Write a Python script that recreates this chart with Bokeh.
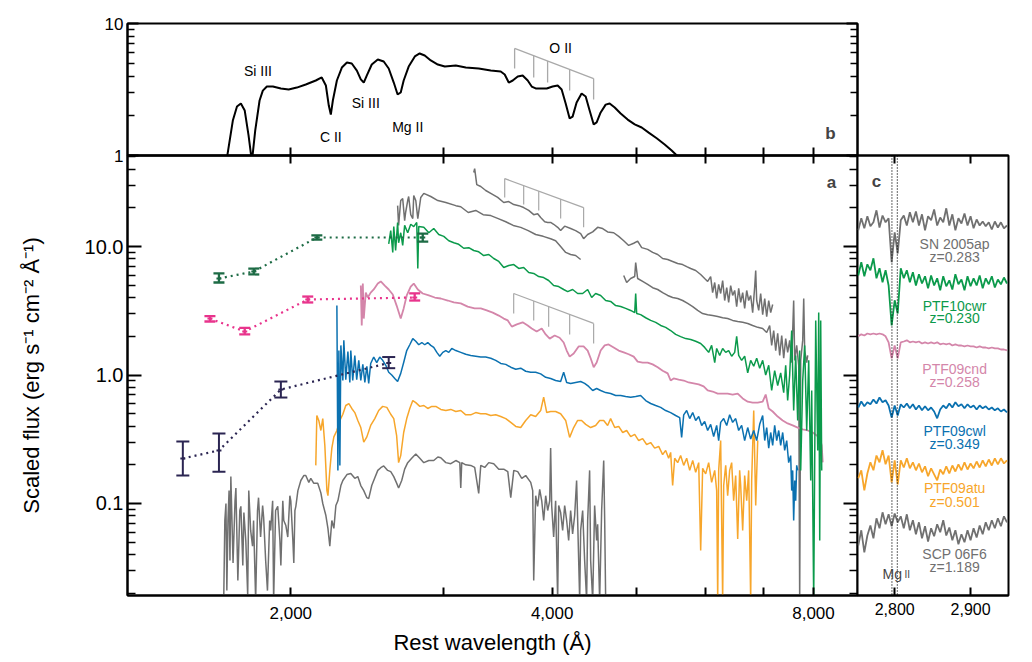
from bokeh.plotting import figure
from bokeh.layouts import column, row
from bokeh.models import (Range1d, LogAxis, LinearAxis, FixedTicker, CustomJSTickFormatter,
                          Label, Span)
from bokeh.embed import file_html
from bokeh.resources import INLINE

FONT = "Liberation Sans"
GRAY = "#707070"
GREEN = "#0b9a4b"
PINK = "#d486aa"
BLUE = "#0b71b0"
ORANGE = "#f7a62b"
DKGREEN = "#1d6b45"
MAGENTA = "#e8348c"
NAVY = "#2b2552"
COMB = "#a9a9a9"

# ---------------- panel b: model spectrum ----------------
model_wave = [1688, 1715, 1734, 1752, 1770, 1788, 1804, 1820, 1841, 1857,
              1877, 1907, 1948, 1989, 2032, 2081, 2137, 2171, 2195, 2212,
              2224, 2236, 2260, 2290, 2321, 2351, 2383, 2408, 2427, 2447,
              2479, 2519, 2559, 2593, 2628, 2655, 2677, 2698, 2734, 2779,
              2815, 2853, 2899, 2954, 3009, 3098, 3181, 3292, 3399, 3490,
              3527, 3565, 3603, 3651, 3699, 3749, 3789, 3829, 3880, 3943,
              4005, 4059, 4102, 4146, 4190, 4223, 4268, 4325, 4372, 4418,
              4466, 4501, 4549, 4610, 4659, 4722, 4797, 4887, 4979, 5072,
              5167, 5278, 5391, 5492, 5595]
model_flux = [0.95, 1.84, 2.35, 2.48, 2.19, 1.42, 0.9, 1.55, 2.61, 3.10,
              3.33, 3.33, 3.22, 3.16, 3.27, 3.45, 3.70, 3.90, 3.39, 2.39,
              2.04, 2.61, 3.70, 4.64, 5.07, 4.98, 4.40, 3.77, 3.57, 4.04,
              4.89, 5.34, 5.15, 4.56, 3.57, 2.90, 3.00, 3.70, 4.72, 5.63,
              5.93, 5.72, 5.25, 4.89, 4.72, 4.80, 4.64, 4.56, 4.40, 4.33,
              4.11, 3.57, 3.70, 3.97, 4.04, 3.70, 3.33, 3.22, 3.22, 3.22,
              3.33, 3.39, 3.16, 2.48, 1.91, 1.97, 2.52, 2.95, 2.80, 2.19,
              1.72, 1.78, 2.12, 2.43, 2.48, 2.31, 2.08, 1.87, 1.72, 1.63,
              1.49, 1.35, 1.21, 1.09, 0.97]
model_oii_wave = [3621, 3809, 3952, 4190, 4465]
model_oii_top = [6.47, 5.70, 5.20, 4.49, 3.83]
model_oii_bot = [4.56, 3.90, 3.57, 3.11, 2.66]

# ---------------- panel a: spectra ----------------
sn05ap_a_wave = [2655, 2662, 2677, 2691, 2705, 2712, 2727, 2734, 2749, 2764,
                 2771, 2786, 2801, 2823, 2846, 2899, 2954, 3017, 3098, 3139,
                 3202, 3266, 3331, 3399, 3467, 3537, 3608, 3680, 3754, 3829,
                 3906, 3984, 4037, 4091, 4146, 4201, 4257, 4314]
sn05ap_a_flux = [20.8, 14.6, 22.8, 23.6, 15.9, 18.4, 22.8, 24.5, 17.7, 16.5,
                 24.9, 22.8, 16.5, 24.1, 25.9, 24.5, 22.8, 22.0, 20.8, 20.4,
                 18.4, 19.1, 17.7, 17.4, 16.5, 15.6, 14.6, 14.1, 13.3, 12.4,
                 12.0, 11.5, 11.1, 10.0, 9.0, 8.67, 8.51, 7.92]

sn05ap_b_wave = [3249, 3257, 3275, 3310, 3354, 3399, 3462, 3518, 3565, 3613,
                 3661, 3709, 3759, 3809, 3849, 3880, 3922, 3953, 3984, 4016,
                 4059, 4091, 4135, 4201, 4257, 4314, 4348, 4395, 4454, 4513,
                 4573, 4634, 4709, 4772, 4836, 4900, 4966, 5018, 5072, 5153,
                 5222, 5292, 5362, 5434, 5506, 5580, 5654, 5715, 5776, 5853,
                 5931, 5994, 6042, 6090, 6122, 6156, 6188, 6221, 6254, 6287,
                 6321, 6355, 6388, 6422, 6456, 6491, 6525, 6560, 6595, 6630,
                 6665, 6701, 6736, 6772, 6808, 6845, 6863, 6881, 6918, 6954,
                 6991, 7029, 7066, 7104, 7141, 7179]
sn05ap_b_flux = [37.7, 40.4, 30.3, 29.3, 27.3, 25.9, 24.1, 22.0, 22.4, 21.2,
                 20.8, 20.1, 19.1, 17.7, 18.0, 16.8, 15.6, 15.4, 15.4, 14.9,
                 14.1, 13.3, 14.4, 13.8, 13.3, 12.6, 11.5, 12.4, 13.0, 14.1,
                 13.8, 13.0, 12.8, 12.0, 11.1, 10.2, 10.6, 11.0, 9.8, 9.5,
                 9.0, 8.67, 8.07, 7.92, 7.65, 7.37, 7.24, 6.98, 6.75, 6.51,
                 6.06, 5.64, 5.35, 5.84, 4.38, 5.25, 3.94, 5.07, 4.31, 5.44,
                 3.80, 4.78, 3.67, 4.97, 4.16, 4.55, 3.41, 4.72, 3.67, 4.38,
                 3.30, 4.55, 3.80, 4.16, 3.06, 4.88, 6.51, 3.80, 3.18, 4.31,
                 2.95, 3.94, 2.85, 3.80, 3.06, 3.54]

sn05ap_c_wave = [4836, 4874, 4926, 4979, 4992, 5018, 5085, 5153, 5222, 5292,
                 5362, 5434, 5506, 5580, 5654, 5730, 5807, 5884, 5962, 6042,
                 6122, 6205, 6287, 6371, 6456, 6543, 6630, 6719, 6808, 6900,
                 6991, 7066, 7122, 7160, 7198, 7237, 7275, 7314, 7353, 7392,
                 7431, 7470, 7510, 7550, 7590, 7611, 7651, 7692, 7712, 7733,
                 7774, 7795, 7815, 7857, 7878]
sn05ap_c_flux = [5.95, 5.25, 5.64, 5.84, 7.5, 5.64, 5.35, 5.07, 4.78, 4.63,
                 4.38, 4.16, 4.01, 3.94, 3.80, 3.61, 3.41, 3.18, 3.01, 2.95,
                 2.90, 2.85, 2.79, 2.75, 2.66, 2.61, 2.57, 2.52, 2.43, 2.35,
                 2.30, 2.14, 2.43, 1.70, 2.22, 1.55, 2.11, 1.42, 2.03, 1.35,
                 1.92, 1.50, 1.86, 1.25, 3.80, 1.30, 1.70, 1.19, 0.017, 1.30,
                 1.86, 3.94, 1.55, 1.25, 1.42]

ptf10cwr_wave = [2593, 2607, 2621, 2628, 2641, 2655, 2662, 2677, 2691, 2705,
                 2727, 2749, 2771, 2793, 2801, 2808, 2846, 2884, 2922, 2961,
                 3001, 3041, 3082, 3122, 3164, 3206, 3249, 3292, 3336, 3381,
                 3426, 3472, 3518, 3565, 3613, 3661, 3709, 3759, 3809, 3860,
                 3911, 3963, 4016, 4070, 4124, 4168, 4223, 4280, 4337, 4395,
                 4442, 4489, 4549, 4610, 4671, 4734, 4797, 4861, 4926, 4979,
                 4992, 5005, 5058, 5126, 5194, 5264, 5334, 5405, 5477, 5550,
                 5624, 5700, 5776, 5853, 5931, 5994, 6058, 6106, 6156, 6188,
                 6238, 6287, 6338, 6388, 6439, 6491, 6525, 6560, 6612, 6665,
                 6719, 6772, 6827, 6881, 6936, 6991, 7047, 7104, 7160, 7217,
                 7275, 7333, 7392, 7431, 7470, 7510, 7550, 7590, 7631, 7671,
                 7712, 7733, 7774, 7815, 7857, 7899, 7941, 7962, 8004, 8047,
                 8090, 8111, 8133, 8154, 8176]
ptf10cwr_flux = [10.5, 13.3, 9.0, 14.3, 9.31, 15.4, 10.7, 12.8, 10.2, 14.6,
                 12.8, 14.9, 14.3, 15.4, 6.75, 14.3, 14.1, 12.8, 13.8, 12.4,
                 12.0, 11.1, 10.7, 10.4, 9.7, 9.8, 9.31, 9.1, 8.51, 8.67,
                 8.07, 7.65, 6.87, 7.11, 7.24, 6.75, 6.87, 6.27, 6.17, 5.84,
                 5.73, 5.44, 4.97, 4.88, 4.63, 4.46, 4.63, 4.31, 4.31, 4.63,
                 4.01, 4.31, 4.16, 3.80, 3.74, 3.47, 3.41, 3.30, 3.18, 3.06,
                 4.31, 3.01, 2.95, 2.79, 2.66, 2.57, 2.43, 2.35, 2.22, 2.07,
                 1.99, 1.92, 1.89, 1.83, 1.76, 1.64, 1.50, 1.70, 1.25, 1.61,
                 1.42, 1.61, 1.50, 1.55, 1.40, 1.50, 2.0, 1.42, 1.30, 1.40,
                 1.04, 1.30, 1.17, 1.35, 1.13, 1.30, 1.0, 1.19, 0.758, 1.08,
                 0.829, 1.04, 0.73, 1.19, 0.633, 1.0, 2.22, 0.529, 1.42, 0.443,
                 1.55, 0.181, 0.906, 1.70, 0.370, 1.30, 0.151, 0.758, 0.0176, 2.66,
                 0.259, 3.06, 0.0515, 2.66, 0.181]

ptf09cnd_wave = [2408, 2414, 2421, 2427, 2440, 2453, 2472, 2492, 2519, 2539,
                 2566, 2593, 2621, 2648, 2677, 2698, 2720, 2749, 2771, 2801,
                 2838, 2884, 2930, 2977, 3033, 3082, 3139, 3197, 3257, 3310,
                 3363, 3417, 3472, 3518, 3556, 3594, 3642, 3699, 3749, 3789,
                 3839, 3891, 3932, 3974, 4027, 4080, 4124, 4157, 4190, 4235,
                 4291, 4348, 4395, 4430, 4466, 4501, 4549, 4598, 4646, 4709,
                 4772, 4836, 4900, 4966, 5018, 5085, 5153, 5222, 5292, 5362,
                 5434, 5477, 5521, 5595, 5670, 5745, 5822, 5900, 5978, 6042,
                 6122, 6205, 6287, 6371, 6456, 6543, 6630, 6719, 6808, 6900,
                 6991, 7047, 7104, 7179, 7275, 7372, 7470, 7570, 7671, 7774,
                 7878, 7983, 8068, 8133, 8176, 8198]
ptf09cnd_flux = [4.97, 2.43, 5.15, 2.75, 4.38, 4.01, 4.38, 4.63, 5.15, 5.35,
                 4.97, 4.63, 4.23, 3.47, 2.75, 3.30, 4.16, 4.88, 5.15, 4.63,
                 4.31, 4.16, 4.01, 3.94, 3.80, 3.67, 3.61, 3.41, 3.30, 3.30,
                 3.18, 3.06, 2.90, 2.75, 2.66, 2.38, 2.48, 2.57, 2.43, 2.30,
                 2.18, 2.30, 2.07, 1.92, 2.03, 1.95, 1.79, 1.55, 1.39, 1.47,
                 1.67, 1.67, 1.55, 1.35, 1.15, 1.25, 1.55, 1.70, 1.73, 1.64,
                 1.55, 1.50, 1.45, 1.39, 1.27, 1.25, 1.25, 1.21, 1.15, 1.08,
                 1.03, 0.906, 0.94, 0.92, 0.906, 0.875, 0.86, 0.845, 0.815, 0.758,
                 0.744, 0.717, 0.717, 0.717, 0.705, 0.717, 0.657, 0.62, 0.61, 0.61,
                 0.62, 0.705, 0.549, 0.52, 0.475, 0.443, 0.42, 0.405, 0.39, 0.377,
                 0.370, 0.357, 0.338, 0.327, 0.283, 0.209]

ptf09cwl_wave = [2260, 2266, 2272, 2278, 2284, 2296, 2302, 2314, 2327, 2339,
                 2345, 2357, 2370, 2382, 2395, 2408, 2421, 2434, 2447, 2459,
                 2472, 2492, 2512, 2532, 2552, 2573, 2593, 2614, 2635, 2655,
                 2677, 2698, 2720, 2742, 2764, 2786, 2808, 2831, 2853, 2876,
                 2899, 2922, 2946, 2969, 2993, 3017, 3041, 3065, 3098, 3139,
                 3181, 3223, 3266, 3310, 3354, 3399, 3444, 3490, 3537, 3584,
                 3632, 3680, 3729, 3779, 3829, 3880, 3932, 3984, 4037, 4091,
                 4124, 4157, 4201, 4257, 4314, 4360, 4407, 4454, 4501, 4549,
                 4610, 4671, 4734, 4797, 4861, 4926, 4992, 5058, 5126, 5194,
                 5264, 5334, 5405, 5477, 5550, 5610, 5639, 5670, 5715, 5761,
                 5807, 5853, 5900, 5947, 5994, 6042, 6090, 6139, 6188, 6221,
                 6254, 6304, 6355, 6405, 6456, 6508, 6560, 6612, 6665, 6719,
                 6772, 6827, 6881, 6936, 6991, 7029, 7066, 7104, 7141, 7179,
                 7217, 7256, 7295, 7333, 7372, 7411, 7451, 7490, 7530, 7550,
                 7570, 7590, 7611, 7631, 7651, 7671]
ptf09cwl_flux = [3.47, 0.181, 1.55, 0.198, 1.70, 0.906, 1.86, 0.92, 1.52, 0.875,
                 1.55, 0.906, 1.42, 0.92, 1.30, 0.906, 1.21, 0.875, 1.17, 0.86,
                 1.23, 1.38, 1.25, 1.38, 1.30, 1.19, 1.05, 1.0, 0.94, 0.89,
                 1.03, 1.25, 1.55, 1.72, 1.92, 1.83, 1.72, 1.79, 1.72, 1.79,
                 1.70, 1.64, 1.50, 1.40, 1.50, 1.55, 1.50, 1.61, 1.55, 1.50,
                 1.45, 1.42, 1.40, 1.38, 1.38, 1.35, 1.30, 1.23, 1.21, 1.15,
                 1.11, 1.13, 1.07, 1.05, 1.05, 1.02, 0.96, 0.94, 0.906, 0.89,
                 1.05, 0.875, 0.86, 0.875, 0.89, 0.86, 0.815, 0.758, 0.785, 0.758,
                 0.73, 0.717, 0.693, 0.693, 0.68, 0.67, 0.68, 0.693, 0.633, 0.60,
                 0.579, 0.56, 0.529, 0.51, 0.484, 0.466, 0.327, 0.49, 0.529, 0.458,
                 0.51, 0.443, 0.475, 0.405, 0.435, 0.370, 0.413, 0.332, 0.405, 0.309,
                 0.428, 0.458, 0.405, 0.49, 0.428, 0.458, 0.370, 0.405, 0.309, 0.39,
                 0.317, 0.370, 0.309, 0.413, 0.484, 0.309, 0.39, 0.27, 0.357, 0.283,
                 0.405, 0.309, 0.370, 0.283, 0.357, 0.259, 0.309, 0.208, 0.236, 0.126,
                 0.181, 0.0737, 0.151, 0.105, 0.198, 0.181]

ptf09atu_wave = [2137, 2143, 2154, 2166, 2177, 2189, 2201, 2207, 2218, 2230,
                 2242, 2260, 2278, 2296, 2314, 2333, 2351, 2370, 2389, 2408,
                 2427, 2447, 2472, 2499, 2525, 2552, 2580, 2607, 2628, 2648,
                 2662, 2677, 2698, 2720, 2742, 2764, 2786, 2816, 2846, 2876,
                 2907, 2938, 2977, 3017, 3057, 3098, 3139, 3181, 3223, 3266,
                 3310, 3354, 3399, 3444, 3490, 3537, 3584, 3632, 3680, 3729,
                 3779, 3829, 3880, 3911, 3943, 3984, 4037, 4091, 4146, 4190,
                 4235, 4280, 4325, 4372, 4430, 4489, 4537, 4586, 4634, 4671,
                 4722, 4772, 4823, 4874, 4926, 4979, 5032, 5085, 5139, 5194,
                 5250, 5306, 5362, 5405, 5448, 5477, 5506, 5536, 5580, 5624,
                 5670, 5715, 5761, 5807, 5853, 5900, 5931, 5962, 6010, 6058,
                 6106, 6156, 6188, 6205, 6221, 6254, 6287, 6304, 6338, 6371,
                 6405, 6439, 6473, 6508, 6543, 6577, 6595, 6630, 6665, 6701,
                 6736, 6772, 6790, 6827, 6863, 6900]
ptf09atu_flux = [0.198, 0.484, 0.443, 0.370, 0.458, 0.283, 0.126, 0.115, 0.181, 0.27,
                 0.33, 0.370, 0.443, 0.495, 0.579, 0.60, 0.549, 0.51, 0.443, 0.39,
                 0.30, 0.33, 0.405, 0.458, 0.529, 0.57, 0.56, 0.495, 0.458, 0.338,
                 0.208, 0.236, 0.357, 0.458, 0.549, 0.633, 0.61, 0.57, 0.579, 0.549,
                 0.57, 0.57, 0.54, 0.529, 0.54, 0.52, 0.529, 0.49, 0.49, 0.51,
                 0.50, 0.50, 0.484, 0.49, 0.475, 0.458, 0.428, 0.398, 0.39, 0.443,
                 0.49, 0.475, 0.529, 0.673, 0.51, 0.52, 0.52, 0.50, 0.443, 0.327,
                 0.39, 0.443, 0.443, 0.413, 0.39, 0.405, 0.443, 0.443, 0.405, 0.458,
                 0.39, 0.398, 0.357, 0.37, 0.332, 0.345, 0.309, 0.32, 0.288, 0.298,
                 0.27, 0.278, 0.24, 0.259, 0.225, 0.25, 0.138, 0.225, 0.208, 0.236,
                 0.198, 0.225, 0.181, 0.216, 0.175, 0.208, 0.0431, 0.188, 0.17, 0.208,
                 0.146, 0.181, 0.126, 0.0176, 0.181, 0.309, 0.0176, 0.138, 0.198, 0.115,
                 0.181, 0.208, 0.105, 0.165, 0.053, 0.181, 0.138, 0.0617, 0.165, 0.105,
                 0.181, 0.0176, 0.151, 0.529, 0.0965, 0.309]

scp06f6_wave = [1674, 1679, 1684, 1688, 1693, 1698, 1702, 1706, 1716, 1725,
                1729, 1738, 1747, 1752, 1761, 1766, 1775, 1784, 1789, 1798,
                1807, 1812, 1822, 1831, 1836, 1846, 1856, 1861, 1871, 1880,
                1891, 1896, 1906, 1911, 1921, 1932, 1943, 1948, 1958, 1963,
                1974, 1984, 1995, 2000, 2011, 2016, 2022, 2027, 2038, 2054,
                2070, 2081, 2098, 2109, 2125, 2148, 2166, 2177, 2195, 2207,
                2218, 2230, 2242, 2254, 2266, 2284, 2296, 2321, 2345, 2370,
                2389, 2408, 2427, 2447, 2459, 2479, 2492, 2519, 2539, 2559,
                2586, 2607, 2628, 2648, 2662, 2684, 2705, 2727, 2756, 2786,
                2816, 2846, 2884, 2922, 2954, 2977, 3017, 3057, 3098, 3131,
                3139, 3147, 3181, 3223, 3257, 3292, 3310, 3345, 3381, 3426,
                3472, 3518, 3556, 3584, 3613, 3651, 3690, 3729, 3779, 3799,
                3809, 3829, 3849, 3870, 3891, 3911, 3932, 3953, 3974, 3984,
                3995, 4016, 4037, 4059, 4070, 4091, 4113, 4135, 4157, 4179,
                4201, 4223, 4246, 4268, 4280, 4303, 4314, 4337, 4360, 4383,
                4395, 4418, 4430, 4454, 4477, 4501, 4513, 4537, 4561, 4586,
                4598, 4610]
scp06f6_flux = [0.0176, 0.0737, 0.10, 0.021, 0.0737, 0.126, 0.036, 0.162, 0.0345, 0.105,
                0.132, 0.0252, 0.0882, 0.095, 0.033, 0.085, 0.0515, 0.0192, 0.126, 0.0617,
                0.0466, 0.0737, 0.0176, 0.0882, 0.111, 0.0548, 0.0965, 0.078, 0.036, 0.021,
                0.0737, 0.0617, 0.105, 0.0176, 0.0882, 0.095, 0.0515, 0.033, 0.105, 0.0737,
                0.0674, 0.0548, 0.115, 0.105, 0.0515, 0.0345, 0.0882, 0.095, 0.126, 0.151,
                0.165, 0.165, 0.146, 0.157, 0.144, 0.144, 0.121, 0.10, 0.0806, 0.064,
                0.0466, 0.0737, 0.064, 0.0965, 0.105, 0.138, 0.151, 0.168, 0.171, 0.157,
                0.162, 0.138, 0.126, 0.111, 0.109, 0.138, 0.151, 0.181, 0.19, 0.196,
                0.181, 0.177, 0.162, 0.144, 0.132, 0.151, 0.185, 0.208, 0.225, 0.243,
                0.225, 0.208, 0.216, 0.216, 0.23, 0.227, 0.208, 0.204, 0.216, 0.208,
                0.132, 0.208, 0.20, 0.198, 0.191, 0.12, 0.198, 0.191, 0.208, 0.204,
                0.185, 0.185, 0.177, 0.111, 0.181, 0.177, 0.157, 0.165, 0.146, 0.126,
                0.0252, 0.115, 0.095, 0.129, 0.105, 0.0737, 0.115, 0.0882, 0.105, 0.27,
                0.0965, 0.0548, 0.105, 0.0176, 0.0965, 0.085, 0.0617, 0.0965, 0.0737, 0.0515,
                0.0882, 0.058, 0.0806, 0.151, 0.0737, 0.0176, 0.0617, 0.0882, 0.036, 0.0176,
                0.0737, 0.181, 0.036, 0.0176, 0.0965, 0.0515, 0.069, 0.0176, 0.0882, 0.216,
                0.0737, 0.0176]

# O II line markers in panel a
sn05ap_oii_wave = [3527, 3709, 3860, 4091, 4348]
sn05ap_oii_top = [33.8, 29.8, 27.0, 23.4, 20.1]
sn05ap_oii_bot = [24.1, 21.2, 19.1, 16.5, 14.1]
ptf09cnd_oii_wave = [3612, 3809, 3963, 4190, 4465]
ptf09cnd_oii_top = [4.31, 3.77, 3.41, 2.96, 2.52]
ptf09cnd_oii_bot = [3.01, 2.66, 2.38, 2.07, 1.76]

# UV photometry (rest wavelength, flux, error range)
ptf10cwr_phot_wave = [1653, 1813, 2143, 2838]
ptf10cwr_phot_flux = [5.64, 6.39, 11.75, 11.75]
ptf10cwr_phot_lo = [5.25, 6.06, 11.3, 10.9]
ptf10cwr_phot_hi = [6.17, 6.74, 12.2, 12.6]
ptf09cnd_phot_wave = [1614, 1770, 2092, 2778]
ptf09cnd_phot_flux = [2.75, 2.18, 3.87, 4.01]
ptf09cnd_phot_lo = [2.61, 2.07, 3.67, 3.80]
ptf09cnd_phot_hi = [2.87, 2.33, 4.08, 4.32]
ptf09cwl_phot_wave = [1502, 1653, 1948, 2593]
ptf09cwl_phot_flux = [0.224, 0.259, 0.771, 1.24]
ptf09cwl_phot_lo = [0.165, 0.177, 0.668, 1.13]
ptf09cwl_phot_hi = [0.304, 0.350, 0.890, 1.38]

# ---------------- panel c: Mg II region (offset scaled flux) ----------------
c_wave = [2752, 2756, 2760, 2764, 2768, 2772, 2776, 2780, 2784, 2788,
          2792, 2796, 2800, 2804, 2808, 2812, 2816, 2820, 2824, 2828,
          2832, 2836, 2840, 2844, 2848, 2852, 2856, 2860, 2864, 2868,
          2872, 2876, 2880, 2884, 2888, 2892, 2896, 2900, 2904, 2908,
          2912, 2916, 2920, 2924, 2928, 2932, 2936, 2940, 2944, 2948]
c_sn05ap = [9.13, 9.43, 9.18, 9.48, 9.23, 9.33, 9.63, 9.2, 9.5, 9.33,
            9.43, 8.33, 9.08, 8.55, 9.38, 9.5, 9.25, 9.58, 9.33, 9.6,
            9.25, 9.53, 9.13, 9.48, 9.38, 9.65, 9.25, 9.45, 9.33, 9.68,
            9.25, 9.53, 9.13, 9.43, 9.3, 9.55, 9.25, 9.48, 9.18, 9.4,
            9.25, 9.35, 9.23, 9.33, 9.15, 9.35, 9.2, 9.33, 9.18, 9.25]
c_ptf10cwr = [8.0, 8.33, 7.98, 8.28, 8.13, 8.43, 7.93, 8.18, 7.83, 8.13,
              7.75, 6.75, 7.38, 7.05, 8.18, 7.93, 8.13, 7.83, 8.08, 7.75,
              8.03, 7.8, 7.98, 7.68, 8.0, 7.75, 7.93, 7.63, 7.98, 7.73,
              7.88, 7.65, 8.03, 7.78, 7.9, 7.63, 7.98, 7.73, 7.93, 7.75,
              8.0, 7.68, 7.93, 7.78, 7.98, 7.7, 7.9, 7.78, 7.95, 7.8]
c_ptf09cnd = [6.48, 6.53, 6.5, 6.55, 6.53, 6.55, 6.53, 6.55, 6.53, 6.48,
              6.33, 5.93, 6.25, 5.93, 6.33, 6.35, 6.38, 6.33, 6.35, 6.33,
              6.35, 6.3, 6.33, 6.3, 6.33, 6.3, 6.33, 6.28, 6.3, 6.28,
              6.3, 6.25, 6.28, 6.25, 6.25, 6.23, 6.25, 6.23, 6.23, 6.2,
              6.23, 6.2, 6.2, 6.18, 6.2, 6.18, 6.18, 6.15, 6.15, 6.13]
c_ptf09cwl = [4.7, 4.85, 4.73, 4.83, 4.78, 4.9, 4.8, 4.95, 4.83, 4.88,
              4.75, 4.45, 4.75, 4.5, 4.78, 4.7, 4.8, 4.68, 4.78, 4.65,
              4.75, 4.63, 4.73, 4.63, 4.7, 4.6, 4.43, 4.65, 4.75, 4.68,
              4.8, 4.7, 4.83, 4.73, 4.78, 4.68, 4.78, 4.7, 4.75, 4.65,
              4.75, 4.68, 4.73, 4.65, 4.7, 4.63, 4.68, 4.6, 4.65, 4.58]
c_ptf09atu = [2.93, 3.13, 2.63, 3.05, 3.33, 3.13, 3.5, 3.33, 3.63, 3.28,
              3.5, 2.83, 3.38, 2.78, 3.38, 3.2, 3.43, 3.18, 3.33, 3.13,
              3.3, 3.08, 3.23, 2.98, 3.18, 3.03, 2.88, 3.15, 3.03, 3.23,
              3.05, 3.25, 3.1, 3.28, 3.13, 3.33, 3.15, 3.3, 3.18, 3.35,
              3.2, 3.38, 3.23, 3.4, 3.25, 3.43, 3.28, 3.43, 3.3, 3.38]
c_scp06f6 = [1.25, 1.63, 1.08, 1.5, 1.75, 1.43, 1.93, 1.68, 2.08, 1.78,
             2.03, 1.73, 2.05, 1.83, 1.98, 1.68, 2.03, 1.63, 1.88, 1.53,
             1.83, 1.43, 1.73, 1.35, 1.68, 1.48, 1.78, 1.58, 1.88, 1.5,
             1.7, 1.38, 1.63, 1.28, 1.53, 1.33, 1.63, 1.38, 1.68, 1.45,
             1.75, 1.53, 1.83, 1.63, 1.88, 1.68, 1.93, 1.73, 1.98, 1.83]
mgii_lines = [2796.35, 2803.53]

c_names = ["SN 2005ap", "PTF10cwr", "PTF09cnd", "PTF09cwl", "PTF09atu", "SCP 06F6"]
c_redshifts = ["z=0.283", "z=0.230", "z=0.258", "z=0.349", "z=0.501", "z=1.189"]
c_colors = [GRAY, GREEN, PINK, BLUE, ORANGE, GRAY]
c_name_level = [8.8, 7.25, 5.67, 4.12, 2.68, 1.05]
c_z_level = [8.47, 6.93, 5.35, 3.8, 2.35, 0.72]

# ---------------- helpers ----------------
XMAJ = [2000, 3000, 4000, 5000, 6000, 7000, 8000]


def minors(e0, e1):
    return [k * 10.0 ** e for e in range(e0, e1 + 1) for k in range(2, 10)]


def style_axis(ax, tin, minor_in=0, labels=False, size="16px", standoff=6, tout=0):
    ax.axis_line_color = "black"
    ax.axis_line_width = 2
    ax.major_tick_in = tin
    ax.major_tick_out = tout
    ax.major_tick_line_width = 2
    ax.major_tick_line_color = "black"
    ax.minor_tick_in = minor_in
    ax.minor_tick_out = 0
    ax.minor_tick_line_width = 1.5
    if minor_in == 0:
        ax.minor_tick_line_color = None
    ax.major_label_text_font = FONT
    ax.major_label_text_color = "black"
    if labels:
        ax.major_label_text_font_size = size
    else:
        ax.formatter = CustomJSTickFormatter(code="return ' ';")
        ax.major_label_text_font_size = "1px"
    ax.major_label_standoff = standoff
    ax.axis_label_text_font = FONT
    ax.axis_label_text_font_style = "normal"
    ax.axis_label_text_color = "black"


def fig(**kw):
    p = figure(title=None, output_backend="svg", toolbar_location=None,
               x_axis_location=None, y_axis_location=None,
               background_fill_color="white", border_fill_color="white",
               outline_line_color="black", outline_line_width=2, **kw)
    p.grid.visible = False
    return p


XFMT_CODE = """
const t = Math.round(tick);
if (t === 2000 || t === 4000 || t === 8000) {
  return String(t).slice(0, 1) + ',' + String(t).slice(1);
}
return ' ';
"""

xr = Range1d(1297, 8990)

# ---------------- panel b ----------------
# its bottom axis ticks point both up (into b) and down (into a, which is transparent)
pb = fig(frame_width=730, frame_height=132, x_axis_type="log", y_axis_type="log",
         x_range=xr, y_range=Range1d(1, 10),
         min_border_left=127, min_border_right=0, min_border_top=23, min_border_bottom=30,
         margin=(0, 0, -30, 0))
ax = LogAxis(ticker=FixedTicker(ticks=[1, 10], minor_ticks=minors(0, 0)),
             formatter=CustomJSTickFormatter(code="return tick.toFixed(0);"))
style_axis(ax, 11, 7, labels=True, size="17px", standoff=4)
pb.add_layout(ax, "left")
ax = LogAxis(ticker=FixedTicker(ticks=[1, 10], minor_ticks=minors(0, 0)))
style_axis(ax, 11, 7, standoff=0)
pb.add_layout(ax, "right")
ax = LogAxis(ticker=FixedTicker(ticks=XMAJ))
style_axis(ax, 8, standoff=0, tout=8)
pb.add_layout(ax, "below")

pb.line(model_wave, model_flux, line_color="black", line_width=2)
pb.line([model_oii_wave[0], model_oii_wave[-1]], [model_oii_top[0], model_oii_top[-1]],
        line_color=COMB, line_width=1.3)
pb.segment(x0=model_oii_wave, y0=model_oii_bot, x1=model_oii_wave, y1=model_oii_top,
           line_color=COMB, line_width=1.3)
for txt, x, y in [("Si III", 1833, 4.40), ("C II", 2224, 1.37), ("Si III", 2440, 2.48),
                  ("Mg II", 2727, 1.63), ("O II", 4091, 6.57)]:
    pb.add_layout(Label(x=x, y=y, text=txt, text_font=FONT, text_font_size="14px",
                        text_align="center", text_baseline="middle", text_color="black"))
pb.add_layout(Label(x=8368, y=1.47, text="b", text_font=FONT, text_font_size="17px",
                    text_font_style="bold", text_align="center", text_baseline="middle"))

# ---------------- panel a ----------------
pa = fig(frame_width=730, frame_height=440, x_axis_type="log", y_axis_type="log",
         x_range=xr, y_range=Range1d(0.01923, 51.1),
         min_border_left=127, min_border_right=0, min_border_top=0, min_border_bottom=67,
         margin=(-6, 0, 0, 0))
pa.border_fill_alpha = 0
pa.background_fill_alpha = 0
ax = LogAxis(ticker=FixedTicker(ticks=[0.1, 1, 10], minor_ticks=minors(-2, 1)),
             formatter=CustomJSTickFormatter(code="return tick.toFixed(1);"),
             axis_label="Scaled flux (erg s\u207b\u00b9 cm\u207b\u00b2 \u00c5\u207b\u00b9)")
style_axis(ax, 14, 8, labels=True, size="20px", standoff=4)
ax.axis_label_text_font_size = "22px"
ax.axis_label_standoff = 38
pa.add_layout(ax, "left")
ax = LogAxis(ticker=FixedTicker(ticks=[0.1, 1, 10], minor_ticks=minors(-2, 1)))
style_axis(ax, 14, 8, standoff=0)
pa.add_layout(ax, "right")
ax = LogAxis(ticker=FixedTicker(ticks=XMAJ), formatter=CustomJSTickFormatter(code=XFMT_CODE),
             axis_label="Rest wavelength (\u00c5)")
style_axis(ax, 8, labels=True, size="17px", standoff=8)
ax.axis_label_text_font_size = "22px"
ax.axis_label_standoff = 4
pa.add_layout(ax, "below")

LW = 1.5
pa.line(sn05ap_a_wave, sn05ap_a_flux, line_color=GRAY, line_width=LW)
pa.line(sn05ap_b_wave, sn05ap_b_flux, line_color=GRAY, line_width=LW)
pa.line(sn05ap_c_wave, sn05ap_c_flux, line_color=GRAY, line_width=LW)
pa.line(scp06f6_wave, scp06f6_flux, line_color=GRAY, line_width=LW)
pa.line(ptf09cnd_wave, ptf09cnd_flux, line_color=PINK, line_width=LW + 0.3)
pa.line(ptf09atu_wave, ptf09atu_flux, line_color=ORANGE, line_width=LW)
pa.line(ptf09cwl_wave, ptf09cwl_flux, line_color=BLUE, line_width=LW)
pa.line(ptf10cwr_wave, ptf10cwr_flux, line_color=GREEN, line_width=LW)

for w, t, b in [(sn05ap_oii_wave, sn05ap_oii_top, sn05ap_oii_bot),
                (ptf09cnd_oii_wave, ptf09cnd_oii_top, ptf09cnd_oii_bot)]:
    pa.line([w[0], w[-1]], [t[0], t[-1]], line_color=COMB, line_width=1.2)
    pa.segment(x0=w, y0=b, x1=w, y1=t, line_color=COMB, line_width=1.2)

for w, f, lo, hi, col, cap, lw in [
        (ptf10cwr_phot_wave, ptf10cwr_phot_flux, ptf10cwr_phot_lo, ptf10cwr_phot_hi, DKGREEN, 11, 2.3),
        (ptf09cnd_phot_wave, ptf09cnd_phot_flux, ptf09cnd_phot_lo, ptf09cnd_phot_hi, MAGENTA, 11, 2.3),
        (ptf09cwl_phot_wave, ptf09cwl_phot_flux, ptf09cwl_phot_lo, ptf09cwl_phot_hi, NAVY, 13, 2)]:
    pa.line(w, f, line_color=col, line_width=2.2, line_dash="2 4")
    pa.segment(x0=w, y0=lo, x1=w, y1=hi, line_color=col, line_width=lw)
    pa.scatter(w, lo, marker="dash", size=cap, line_color=col, line_width=lw)
    pa.scatter(w, hi, marker="dash", size=cap, line_color=col, line_width=lw)
    pa.scatter(w, f, marker="dash", size=5, line_color=col, line_width=2)

pa.add_layout(Label(x=8390, y=31.5, text="a", text_font=FONT, text_font_size="17px",
                    text_font_style="bold", text_align="center", text_baseline="middle"))

# ---------------- panel c ----------------
pc = fig(frame_width=151, frame_height=440, x_range=Range1d(2751, 2950), y_range=Range1d(0, 11),
         min_border_left=0, min_border_right=24, min_border_top=6, min_border_bottom=67,
         margin=(-6, 0, 0, -3))
pc.border_fill_alpha = 0
ax = LinearAxis(ticker=FixedTicker(ticks=[2800, 2900]),
                formatter=CustomJSTickFormatter(
                    code="const s = String(Math.round(tick)); return s.slice(0, 1) + ',' + s.slice(1);"))
style_axis(ax, 8, labels=True, size="16px", standoff=7)
pc.add_layout(ax, "below")
ax = LinearAxis(ticker=FixedTicker(ticks=[2800, 2900]))
style_axis(ax, 8, standoff=0)
pc.add_layout(ax, "above")

for loc in mgii_lines:
    pc.add_layout(Span(location=loc, dimension="height", line_color="black",
                       line_width=1.2, line_dash="1 2"))
for series, col in zip([c_sn05ap, c_ptf10cwr, c_ptf09cnd, c_ptf09cwl, c_ptf09atu, c_scp06f6], c_colors):
    pc.line(c_wave, series, line_color=col, line_width=1.8)
for name, z, col, yn, yz in zip(c_names, c_redshifts, c_colors, c_name_level, c_z_level):
    pc.add_layout(Label(x=2879, y=yn, text=name, text_font=FONT, text_font_size="14px",
                        text_color=col, text_align="center", text_baseline="middle"))
    pc.add_layout(Label(x=2879, y=yz, text=z, text_font=FONT, text_font_size="14px",
                        text_color=col, text_align="center", text_baseline="middle"))
pc.add_layout(Label(x=2784, y=0.55, text="Mg", text_font=FONT, text_font_size="14px",
                    text_align="left", text_baseline="middle"))
pc.add_layout(Label(x=2813, y=0.52, text="II", text_font=FONT, text_font_size="10px",
                    text_align="left", text_baseline="middle"))
pc.add_layout(Label(x=2776, y=10.35, text="c", text_font=FONT, text_font_size="17px",
                    text_font_style="bold", text_align="center", text_baseline="middle"))

layout = column(pb, row(pa, pc))
open("out.html", "w").write(file_html(layout, INLINE))
